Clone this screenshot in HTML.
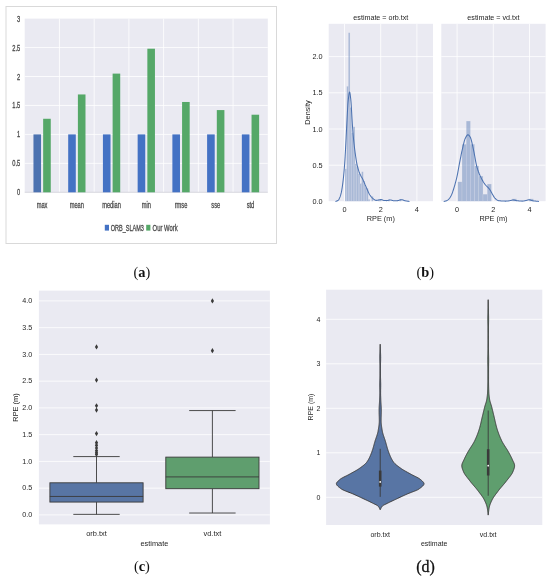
<!DOCTYPE html>
<html><head><meta charset="utf-8"><title>Figure</title>
<style>html,body{margin:0;padding:0;background:#fff}svg{display:block}</style></head>
<body>
<svg width="550" height="581" viewBox="0 0 550 581">
<rect width="550" height="581" fill="#fff"/>
<rect x="6" y="6.5" width="270.5" height="237" fill="#fff" stroke="#D9D9D9" stroke-width="1"/>
<rect x="24.7" y="18.6" width="243.10" height="173.70" fill="#EAEAF2"/>
<line x1="59.43" y1="18.6" x2="59.43" y2="192.3" stroke="#fff" stroke-width="0.8"/>
<line x1="94.16" y1="18.6" x2="94.16" y2="192.3" stroke="#fff" stroke-width="0.8"/>
<line x1="128.89" y1="18.6" x2="128.89" y2="192.3" stroke="#fff" stroke-width="0.8"/>
<line x1="163.61" y1="18.6" x2="163.61" y2="192.3" stroke="#fff" stroke-width="0.8"/>
<line x1="198.34" y1="18.6" x2="198.34" y2="192.3" stroke="#fff" stroke-width="0.8"/>
<line x1="233.07" y1="18.6" x2="233.07" y2="192.3" stroke="#fff" stroke-width="0.8"/>
<line x1="24.7" y1="163.35" x2="267.8" y2="163.35" stroke="#fff" stroke-width="0.8"/>
<line x1="24.7" y1="134.40" x2="267.8" y2="134.40" stroke="#fff" stroke-width="0.8"/>
<line x1="24.7" y1="105.45" x2="267.8" y2="105.45" stroke="#fff" stroke-width="0.8"/>
<line x1="24.7" y1="76.50" x2="267.8" y2="76.50" stroke="#fff" stroke-width="0.8"/>
<line x1="24.7" y1="47.55" x2="267.8" y2="47.55" stroke="#fff" stroke-width="0.8"/>
<line x1="24.7" y1="192.3" x2="267.8" y2="192.3" stroke="#D0D0D8" stroke-width="0.8"/>
<rect x="33.46" y="134.40" width="7.6" height="57.90" fill="#4C72B0"/>
<rect x="43.16" y="118.77" width="7.6" height="73.53" fill="#55A868"/>
<text transform="translate(42.06,207.60) scale(0.665,1)" font-size="8.6" text-anchor="middle" fill="#4a4a4a" stroke="#4a4a4a" stroke-width="0.3" font-family="Liberation Sans, Arial, sans-serif">max</text>
<rect x="68.19" y="134.40" width="7.6" height="57.90" fill="#4472C4"/>
<rect x="77.89" y="94.45" width="7.6" height="97.85" fill="#55A868"/>
<text transform="translate(76.79,207.60) scale(0.665,1)" font-size="8.6" text-anchor="middle" fill="#4a4a4a" stroke="#4a4a4a" stroke-width="0.3" font-family="Liberation Sans, Arial, sans-serif">mean</text>
<rect x="102.92" y="134.40" width="7.6" height="57.90" fill="#4472C4"/>
<rect x="112.62" y="73.61" width="7.6" height="118.70" fill="#55A868"/>
<text transform="translate(111.52,207.60) scale(0.665,1)" font-size="8.6" text-anchor="middle" fill="#4a4a4a" stroke="#4a4a4a" stroke-width="0.3" font-family="Liberation Sans, Arial, sans-serif">median</text>
<rect x="137.65" y="134.40" width="7.6" height="57.90" fill="#4472C4"/>
<rect x="147.35" y="48.71" width="7.6" height="143.59" fill="#55A868"/>
<text transform="translate(146.25,207.60) scale(0.665,1)" font-size="8.6" text-anchor="middle" fill="#4a4a4a" stroke="#4a4a4a" stroke-width="0.3" font-family="Liberation Sans, Arial, sans-serif">min</text>
<rect x="172.38" y="134.40" width="7.6" height="57.90" fill="#4472C4"/>
<rect x="182.08" y="101.98" width="7.6" height="90.32" fill="#55A868"/>
<text transform="translate(180.98,207.60) scale(0.665,1)" font-size="8.6" text-anchor="middle" fill="#4a4a4a" stroke="#4a4a4a" stroke-width="0.3" font-family="Liberation Sans, Arial, sans-serif">rmse</text>
<rect x="207.11" y="134.40" width="7.6" height="57.90" fill="#4472C4"/>
<rect x="216.81" y="110.08" width="7.6" height="82.22" fill="#55A868"/>
<text transform="translate(215.71,207.60) scale(0.665,1)" font-size="8.6" text-anchor="middle" fill="#4a4a4a" stroke="#4a4a4a" stroke-width="0.3" font-family="Liberation Sans, Arial, sans-serif">sse</text>
<rect x="241.84" y="134.40" width="7.6" height="57.90" fill="#4472C4"/>
<rect x="251.54" y="114.71" width="7.6" height="77.59" fill="#55A868"/>
<text transform="translate(250.44,207.60) scale(0.665,1)" font-size="8.6" text-anchor="middle" fill="#4a4a4a" stroke="#4a4a4a" stroke-width="0.3" font-family="Liberation Sans, Arial, sans-serif">std</text>
<text transform="translate(20.30,195.30) scale(0.665,1)" font-size="8.6" text-anchor="end" fill="#4a4a4a" stroke="#4a4a4a" stroke-width="0.3" font-family="Liberation Sans, Arial, sans-serif">0</text>
<text transform="translate(20.30,166.35) scale(0.665,1)" font-size="8.6" text-anchor="end" fill="#4a4a4a" stroke="#4a4a4a" stroke-width="0.3" font-family="Liberation Sans, Arial, sans-serif">0.5</text>
<text transform="translate(20.30,137.40) scale(0.665,1)" font-size="8.6" text-anchor="end" fill="#4a4a4a" stroke="#4a4a4a" stroke-width="0.3" font-family="Liberation Sans, Arial, sans-serif">1</text>
<text transform="translate(20.30,108.45) scale(0.665,1)" font-size="8.6" text-anchor="end" fill="#4a4a4a" stroke="#4a4a4a" stroke-width="0.3" font-family="Liberation Sans, Arial, sans-serif">1.5</text>
<text transform="translate(20.30,79.50) scale(0.665,1)" font-size="8.6" text-anchor="end" fill="#4a4a4a" stroke="#4a4a4a" stroke-width="0.3" font-family="Liberation Sans, Arial, sans-serif">2</text>
<text transform="translate(20.30,50.55) scale(0.665,1)" font-size="8.6" text-anchor="end" fill="#4a4a4a" stroke="#4a4a4a" stroke-width="0.3" font-family="Liberation Sans, Arial, sans-serif">2.5</text>
<text transform="translate(20.30,21.60) scale(0.665,1)" font-size="8.6" text-anchor="end" fill="#4a4a4a" stroke="#4a4a4a" stroke-width="0.3" font-family="Liberation Sans, Arial, sans-serif">3</text>
<rect x="104.8" y="224.8" width="4.2" height="5.8" fill="#4472C4"/>
<text transform="translate(110.70,230.60) scale(0.645,1)" font-size="8.6" text-anchor="start" fill="#4a4a4a" stroke="#4a4a4a" stroke-width="0.3" font-family="Liberation Sans, Arial, sans-serif">ORB_SLAM3</text>
<rect x="146.2" y="224.8" width="4.2" height="5.8" fill="#55A868"/>
<text transform="translate(152.60,230.60) scale(0.685,1)" font-size="8.6" text-anchor="start" fill="#4a4a4a" stroke="#4a4a4a" stroke-width="0.3" font-family="Liberation Sans, Arial, sans-serif">Our Work</text>
<rect x="328.7" y="23.8" width="104.30" height="177.40" fill="#EAEAF2"/>
<line x1="344.50" y1="23.8" x2="344.50" y2="201.2" stroke="#fff" stroke-width="0.8"/>
<text x="344.50" y="212.20" font-size="7.3" text-anchor="middle" fill="#262626" font-family="Liberation Sans, Arial, sans-serif" >0</text>
<line x1="380.70" y1="23.8" x2="380.70" y2="201.2" stroke="#fff" stroke-width="0.8"/>
<text x="380.70" y="212.20" font-size="7.3" text-anchor="middle" fill="#262626" font-family="Liberation Sans, Arial, sans-serif" >2</text>
<line x1="416.90" y1="23.8" x2="416.90" y2="201.2" stroke="#fff" stroke-width="0.8"/>
<text x="416.90" y="212.20" font-size="7.3" text-anchor="middle" fill="#262626" font-family="Liberation Sans, Arial, sans-serif" >4</text>
<line x1="328.7" y1="165.20" x2="433.0" y2="165.20" stroke="#fff" stroke-width="0.8"/>
<line x1="328.7" y1="129.00" x2="433.0" y2="129.00" stroke="#fff" stroke-width="0.8"/>
<line x1="328.7" y1="92.80" x2="433.0" y2="92.80" stroke="#fff" stroke-width="0.8"/>
<line x1="328.7" y1="56.60" x2="433.0" y2="56.60" stroke="#fff" stroke-width="0.8"/>
<text x="322.60" y="204.00" font-size="7.3" text-anchor="end" fill="#262626" font-family="Liberation Sans, Arial, sans-serif" >0.0</text>
<text x="322.60" y="167.80" font-size="7.3" text-anchor="end" fill="#262626" font-family="Liberation Sans, Arial, sans-serif" >0.5</text>
<text x="322.60" y="131.60" font-size="7.3" text-anchor="end" fill="#262626" font-family="Liberation Sans, Arial, sans-serif" >1.0</text>
<text x="322.60" y="95.40" font-size="7.3" text-anchor="end" fill="#262626" font-family="Liberation Sans, Arial, sans-serif" >1.5</text>
<text x="322.60" y="59.20" font-size="7.3" text-anchor="end" fill="#262626" font-family="Liberation Sans, Arial, sans-serif" >2.0</text>
<rect x="345.04" y="168.82" width="1.66" height="32.38" fill="#4C72B0" fill-opacity="0.42" stroke="#EAEAF2" stroke-opacity="0.55" stroke-width="0.35"/>
<rect x="346.70" y="86.28" width="1.66" height="114.92" fill="#4C72B0" fill-opacity="0.42" stroke="#EAEAF2" stroke-opacity="0.55" stroke-width="0.35"/>
<rect x="348.36" y="32.71" width="1.66" height="168.49" fill="#4C72B0" fill-opacity="0.42" stroke="#EAEAF2" stroke-opacity="0.55" stroke-width="0.35"/>
<rect x="350.01" y="107.28" width="1.66" height="93.92" fill="#4C72B0" fill-opacity="0.42" stroke="#EAEAF2" stroke-opacity="0.55" stroke-width="0.35"/>
<rect x="351.67" y="132.62" width="1.66" height="68.58" fill="#4C72B0" fill-opacity="0.42" stroke="#EAEAF2" stroke-opacity="0.55" stroke-width="0.35"/>
<rect x="353.32" y="126.83" width="1.66" height="74.37" fill="#4C72B0" fill-opacity="0.42" stroke="#EAEAF2" stroke-opacity="0.55" stroke-width="0.35"/>
<rect x="354.98" y="163.75" width="1.66" height="37.45" fill="#4C72B0" fill-opacity="0.42" stroke="#EAEAF2" stroke-opacity="0.55" stroke-width="0.35"/>
<rect x="356.64" y="166.65" width="1.66" height="34.55" fill="#4C72B0" fill-opacity="0.42" stroke="#EAEAF2" stroke-opacity="0.55" stroke-width="0.35"/>
<rect x="358.29" y="173.89" width="1.66" height="27.31" fill="#4C72B0" fill-opacity="0.42" stroke="#EAEAF2" stroke-opacity="0.55" stroke-width="0.35"/>
<rect x="359.95" y="183.30" width="1.66" height="17.90" fill="#4C72B0" fill-opacity="0.42" stroke="#EAEAF2" stroke-opacity="0.55" stroke-width="0.35"/>
<rect x="361.60" y="171.72" width="1.66" height="29.48" fill="#4C72B0" fill-opacity="0.42" stroke="#EAEAF2" stroke-opacity="0.55" stroke-width="0.35"/>
<rect x="363.26" y="181.13" width="1.66" height="20.07" fill="#4C72B0" fill-opacity="0.42" stroke="#EAEAF2" stroke-opacity="0.55" stroke-width="0.35"/>
<rect x="364.92" y="186.92" width="1.66" height="14.28" fill="#4C72B0" fill-opacity="0.42" stroke="#EAEAF2" stroke-opacity="0.55" stroke-width="0.35"/>
<rect x="366.57" y="188.37" width="1.66" height="12.83" fill="#4C72B0" fill-opacity="0.42" stroke="#EAEAF2" stroke-opacity="0.55" stroke-width="0.35"/>
<rect x="368.23" y="199.23" width="1.66" height="1.97" fill="#4C72B0" fill-opacity="0.42" stroke="#EAEAF2" stroke-opacity="0.55" stroke-width="0.35"/>
<rect x="371.54" y="196.33" width="1.66" height="4.87" fill="#4C72B0" fill-opacity="0.42" stroke="#EAEAF2" stroke-opacity="0.55" stroke-width="0.35"/>
<rect x="378.17" y="199.23" width="1.66" height="1.97" fill="#4C72B0" fill-opacity="0.42" stroke="#EAEAF2" stroke-opacity="0.55" stroke-width="0.35"/>
<rect x="379.82" y="199.95" width="1.66" height="1.25" fill="#4C72B0" fill-opacity="0.42" stroke="#EAEAF2" stroke-opacity="0.55" stroke-width="0.35"/>
<rect x="388.10" y="199.23" width="1.66" height="1.97" fill="#4C72B0" fill-opacity="0.42" stroke="#EAEAF2" stroke-opacity="0.55" stroke-width="0.35"/>
<rect x="399.70" y="199.23" width="1.66" height="1.97" fill="#4C72B0" fill-opacity="0.42" stroke="#EAEAF2" stroke-opacity="0.55" stroke-width="0.35"/>
<path d="M335.81,201.40 L336.06,201.29 L336.30,201.20 L336.55,201.11 L336.79,201.02 L337.04,200.92 L337.28,200.82 L337.53,200.71 L337.77,200.57 L338.02,200.42 L338.26,200.23 L338.51,199.96 L338.75,199.61 L339.00,199.19 L339.24,198.71 L339.49,198.19 L339.73,197.63 L339.98,197.04 L340.23,196.41 L340.47,195.68 L340.72,194.85 L340.96,193.94 L341.21,192.95 L341.45,191.86 L341.70,190.62 L341.94,189.21 L342.19,187.64 L342.43,185.94 L342.68,184.11 L342.92,182.18 L343.17,180.17 L343.41,177.98 L343.66,175.60 L343.90,173.03 L344.15,170.26 L344.39,167.29 L344.64,164.06 L344.88,160.38 L345.13,156.35 L345.37,152.05 L345.62,147.63 L345.86,143.13 L346.11,138.27 L346.35,133.19 L346.60,128.14 L346.84,123.37 L347.09,118.66 L347.33,113.83 L347.58,109.21 L347.83,105.15 L348.07,101.99 L348.32,99.63 L348.56,97.37 L348.81,95.34 L349.05,93.69 L349.30,92.55 L349.54,92.08 L349.79,92.43 L350.03,93.53 L350.28,95.20 L350.52,97.24 L350.77,99.43 L351.01,101.95 L351.26,105.48 L351.50,109.68 L351.75,114.18 L351.99,118.60 L352.24,122.56 L352.48,126.00 L352.73,129.33 L352.97,132.51 L353.22,135.50 L353.46,138.24 L353.71,140.73 L353.95,143.07 L354.20,145.28 L354.44,147.37 L354.69,149.36 L354.94,151.26 L355.18,153.06 L355.43,154.80 L355.67,156.49 L355.92,158.15 L356.16,159.74 L356.41,161.25 L356.65,162.65 L356.90,163.94 L357.14,165.08 L357.39,166.10 L357.63,167.07 L357.88,167.99 L358.12,168.86 L358.37,169.68 L358.61,170.45 L358.86,171.19 L359.10,171.89 L359.35,172.55 L359.59,173.18 L359.84,173.78 L360.08,174.34 L360.33,174.86 L360.57,175.34 L360.82,175.79 L361.06,176.22 L361.31,176.64 L361.55,177.06 L361.80,177.47 L362.04,177.90 L362.29,178.35 L362.54,178.82 L362.78,179.33 L363.03,179.85 L363.27,180.39 L363.52,180.94 L363.76,181.50 L364.01,182.07 L364.25,182.64 L364.50,183.22 L364.74,183.80 L364.99,184.38 L365.23,184.97 L365.48,185.54 L365.72,186.11 L365.97,186.68 L366.21,187.23 L366.46,187.77 L366.70,188.32 L366.95,188.87 L367.19,189.44 L367.44,190.00 L367.68,190.57 L367.93,191.13 L368.17,191.68 L368.42,192.22 L368.66,192.74 L368.91,193.24 L369.15,193.72 L369.40,194.16 L369.65,194.58 L369.89,194.96 L370.14,195.32 L370.38,195.67 L370.63,196.01 L370.87,196.34 L371.12,196.65 L371.36,196.95 L371.61,197.24 L371.85,197.51 L372.10,197.77 L372.34,198.01 L372.59,198.23 L372.83,198.44 L373.08,198.63 L373.32,198.83 L373.57,199.02 L373.81,199.22 L374.06,199.41 L374.30,199.59 L374.55,199.76 L374.79,199.92 L375.04,200.06 L375.28,200.18 L375.53,200.27 L375.77,200.34 L376.02,200.38 L376.26,200.39 L376.51,200.37 L376.75,200.35 L377.00,200.32 L377.25,200.28 L377.49,200.23 L377.74,200.18 L377.98,200.13 L378.23,200.08 L378.47,200.03 L378.72,199.98 L378.96,199.94 L379.21,199.89 L379.45,199.84 L379.70,199.79 L379.94,199.73 L380.19,199.68 L380.43,199.64 L380.68,199.61 L380.92,199.59 L381.17,199.59 L381.41,199.62 L381.66,199.67 L381.90,199.74 L382.15,199.82 L382.39,199.92 L382.64,200.02 L382.88,200.12 L383.13,200.22 L383.37,200.32 L383.62,200.40 L383.86,200.47 L384.11,200.51 L384.36,200.53 L384.60,200.54 L384.85,200.55 L385.09,200.56 L385.34,200.57 L385.58,200.58 L385.83,200.59 L386.07,200.59 L386.32,200.60 L386.56,200.60 L386.81,200.60 L387.05,200.60 L387.30,200.59 L387.54,200.56 L387.79,200.51 L388.03,200.44 L388.28,200.37 L388.52,200.29 L388.77,200.22 L389.01,200.14 L389.26,200.07 L389.50,200.02 L389.75,199.98 L389.99,199.95 L390.24,199.95 L390.48,199.97 L390.73,200.00 L390.97,200.05 L391.22,200.10 L391.46,200.17 L391.71,200.24 L391.96,200.31 L392.20,200.39 L392.45,200.46 L392.69,200.54 L392.94,200.61 L393.18,200.67 L393.43,200.73 L393.67,200.77 L393.92,200.80 L394.16,200.82 L394.41,200.82 L394.65,200.82 L394.90,200.81 L395.14,200.81 L395.39,200.80 L395.63,200.78 L395.88,200.77 L396.12,200.75 L396.37,200.74 L396.61,200.72 L396.86,200.70 L397.10,200.68 L397.35,200.66 L397.59,200.63 L397.84,200.61 L398.08,200.58 L398.33,200.53 L398.57,200.46 L398.82,200.39 L399.07,200.30 L399.31,200.21 L399.56,200.11 L399.80,200.02 L400.05,199.93 L400.29,199.85 L400.54,199.78 L400.78,199.72 L401.03,199.68 L401.27,199.66 L401.52,199.67 L401.76,199.69 L402.01,199.73 L402.25,199.79 L402.50,199.85 L402.74,199.93 L402.99,200.02 L403.23,200.11 L403.48,200.20 L403.72,200.29 L403.97,200.39 L404.21,200.48 L404.46,200.56 L404.70,200.64 L404.95,200.71 L405.19,200.76 L405.44,200.81 L405.68,200.86 L405.93,200.90 L406.17,200.94 L406.42,200.99 L406.67,201.02 L406.91,201.06 L407.16,201.10 L407.40,201.14 L407.65,201.17 L407.89,201.21 L408.14,201.25 L408.38,201.28 L408.63,201.32 L408.87,201.36 L409.12,201.40" fill="none" stroke="#4C72B0" stroke-width="1.05" stroke-linejoin="round" stroke-linecap="round"/>
<text x="380.85" y="19.50" font-size="7.15" text-anchor="middle" fill="#262626" font-family="Liberation Sans, Arial, sans-serif" >estimate = orb.txt</text>
<text x="380.85" y="221.30" font-size="7.3" text-anchor="middle" fill="#262626" font-family="Liberation Sans, Arial, sans-serif" >RPE (m)</text>
<rect x="441.3" y="23.8" width="104.30" height="177.40" fill="#EAEAF2"/>
<line x1="457.10" y1="23.8" x2="457.10" y2="201.2" stroke="#fff" stroke-width="0.8"/>
<text x="457.10" y="212.20" font-size="7.3" text-anchor="middle" fill="#262626" font-family="Liberation Sans, Arial, sans-serif" >0</text>
<line x1="493.30" y1="23.8" x2="493.30" y2="201.2" stroke="#fff" stroke-width="0.8"/>
<text x="493.30" y="212.20" font-size="7.3" text-anchor="middle" fill="#262626" font-family="Liberation Sans, Arial, sans-serif" >2</text>
<line x1="529.50" y1="23.8" x2="529.50" y2="201.2" stroke="#fff" stroke-width="0.8"/>
<text x="529.50" y="212.20" font-size="7.3" text-anchor="middle" fill="#262626" font-family="Liberation Sans, Arial, sans-serif" >4</text>
<line x1="441.3" y1="165.20" x2="545.6" y2="165.20" stroke="#fff" stroke-width="0.8"/>
<line x1="441.3" y1="129.00" x2="545.6" y2="129.00" stroke="#fff" stroke-width="0.8"/>
<line x1="441.3" y1="92.80" x2="545.6" y2="92.80" stroke="#fff" stroke-width="0.8"/>
<line x1="441.3" y1="56.60" x2="545.6" y2="56.60" stroke="#fff" stroke-width="0.8"/>
<rect x="457.82" y="181.85" width="4.20" height="19.35" fill="#4C72B0" fill-opacity="0.42" stroke="#EAEAF2" stroke-opacity="0.55" stroke-width="0.35"/>
<rect x="462.02" y="144.20" width="4.20" height="57.00" fill="#4C72B0" fill-opacity="0.42" stroke="#EAEAF2" stroke-opacity="0.55" stroke-width="0.35"/>
<rect x="466.22" y="121.04" width="4.20" height="80.16" fill="#4C72B0" fill-opacity="0.42" stroke="#EAEAF2" stroke-opacity="0.55" stroke-width="0.35"/>
<rect x="470.42" y="144.20" width="4.20" height="57.00" fill="#4C72B0" fill-opacity="0.42" stroke="#EAEAF2" stroke-opacity="0.55" stroke-width="0.35"/>
<rect x="474.62" y="165.92" width="4.20" height="35.28" fill="#4C72B0" fill-opacity="0.42" stroke="#EAEAF2" stroke-opacity="0.55" stroke-width="0.35"/>
<rect x="478.82" y="176.06" width="4.20" height="25.14" fill="#4C72B0" fill-opacity="0.42" stroke="#EAEAF2" stroke-opacity="0.55" stroke-width="0.35"/>
<rect x="483.02" y="194.16" width="4.20" height="7.04" fill="#4C72B0" fill-opacity="0.42" stroke="#EAEAF2" stroke-opacity="0.55" stroke-width="0.35"/>
<rect x="487.22" y="184.02" width="4.20" height="17.18" fill="#4C72B0" fill-opacity="0.42" stroke="#EAEAF2" stroke-opacity="0.55" stroke-width="0.35"/>
<rect x="512.41" y="198.87" width="4.20" height="2.33" fill="#4C72B0" fill-opacity="0.42" stroke="#EAEAF2" stroke-opacity="0.55" stroke-width="0.35"/>
<rect x="529.21" y="198.87" width="4.20" height="2.33" fill="#4C72B0" fill-opacity="0.42" stroke="#EAEAF2" stroke-opacity="0.55" stroke-width="0.35"/>
<path d="M444.07,201.40 L444.38,201.31 L444.70,201.24 L445.02,201.16 L445.33,201.08 L445.65,201.00 L445.96,200.91 L446.28,200.80 L446.60,200.68 L446.91,200.53 L447.23,200.34 L447.54,200.13 L447.86,199.89 L448.18,199.62 L448.49,199.33 L448.81,199.02 L449.12,198.69 L449.44,198.31 L449.76,197.89 L450.07,197.43 L450.39,196.92 L450.70,196.38 L451.02,195.81 L451.34,195.20 L451.65,194.56 L451.97,193.85 L452.28,193.04 L452.60,192.14 L452.92,191.19 L453.23,190.22 L453.55,189.24 L453.86,188.25 L454.18,187.21 L454.50,186.13 L454.81,185.03 L455.13,183.89 L455.44,182.73 L455.76,181.55 L456.08,180.34 L456.39,179.09 L456.71,177.78 L457.02,176.40 L457.34,174.94 L457.66,173.35 L457.97,171.68 L458.29,169.95 L458.60,168.18 L458.92,166.40 L459.24,164.65 L459.55,162.94 L459.87,161.31 L460.18,159.71 L460.50,158.12 L460.82,156.54 L461.13,154.97 L461.45,153.44 L461.76,151.95 L462.08,150.51 L462.40,149.12 L462.71,147.78 L463.03,146.40 L463.34,145.02 L463.66,143.67 L463.98,142.37 L464.29,141.16 L464.61,140.08 L464.92,139.15 L465.24,138.42 L465.56,137.80 L465.87,137.19 L466.19,136.62 L466.50,136.09 L466.82,135.63 L467.14,135.25 L467.45,134.97 L467.77,134.82 L468.08,134.80 L468.40,134.91 L468.72,135.14 L469.03,135.45 L469.35,135.83 L469.66,136.27 L469.98,136.73 L470.30,137.24 L470.61,137.96 L470.93,138.87 L471.24,139.95 L471.56,141.16 L471.88,142.48 L472.19,143.87 L472.51,145.30 L472.82,146.75 L473.14,148.18 L473.46,149.56 L473.77,151.02 L474.09,152.61 L474.40,154.29 L474.72,156.03 L475.04,157.80 L475.35,159.56 L475.67,161.28 L475.98,162.92 L476.30,164.46 L476.62,165.87 L476.93,167.10 L477.25,168.17 L477.56,169.17 L477.88,170.12 L478.20,171.03 L478.51,171.88 L478.83,172.70 L479.14,173.48 L479.46,174.22 L479.78,174.94 L480.09,175.64 L480.41,176.31 L480.72,176.98 L481.04,177.63 L481.36,178.26 L481.67,178.88 L481.99,179.47 L482.30,180.06 L482.62,180.62 L482.94,181.17 L483.25,181.70 L483.57,182.21 L483.88,182.71 L484.20,183.18 L484.52,183.64 L484.83,184.08 L485.15,184.49 L485.46,184.87 L485.78,185.24 L486.10,185.58 L486.41,185.91 L486.73,186.23 L487.04,186.54 L487.36,186.85 L487.68,187.16 L487.99,187.48 L488.31,187.81 L488.62,188.15 L488.94,188.51 L489.26,188.89 L489.57,189.31 L489.89,189.75 L490.20,190.25 L490.52,190.78 L490.84,191.35 L491.15,191.93 L491.47,192.51 L491.78,193.09 L492.10,193.66 L492.41,194.19 L492.73,194.73 L493.05,195.29 L493.36,195.85 L493.68,196.40 L493.99,196.92 L494.31,197.39 L494.63,197.81 L494.94,198.16 L495.26,198.46 L495.57,198.75 L495.89,199.04 L496.21,199.32 L496.52,199.58 L496.84,199.82 L497.15,200.03 L497.47,200.23 L497.79,200.39 L498.10,200.52 L498.42,200.62 L498.73,200.68 L499.05,200.71 L499.37,200.75 L499.68,200.78 L500.00,200.82 L500.31,200.85 L500.63,200.87 L500.95,200.90 L501.26,200.93 L501.58,200.95 L501.89,200.97 L502.21,200.99 L502.53,201.01 L502.84,201.03 L503.16,201.05 L503.47,201.06 L503.79,201.07 L504.11,201.08 L504.42,201.09 L504.74,201.10 L505.05,201.10 L505.37,201.11 L505.69,201.11 L506.00,201.11 L506.32,201.10 L506.63,201.09 L506.95,201.07 L507.27,201.04 L507.58,201.00 L507.90,200.96 L508.21,200.92 L508.53,200.87 L508.85,200.81 L509.16,200.76 L509.48,200.71 L509.79,200.65 L510.11,200.60 L510.43,200.54 L510.74,200.48 L511.06,200.41 L511.37,200.32 L511.69,200.23 L512.01,200.14 L512.32,200.07 L512.64,200.00 L512.95,199.96 L513.27,199.95 L513.59,199.97 L513.90,200.01 L514.22,200.07 L514.53,200.14 L514.85,200.22 L515.17,200.30 L515.48,200.39 L515.80,200.47 L516.11,200.55 L516.43,200.61 L516.75,200.67 L517.06,200.70 L517.38,200.74 L517.69,200.78 L518.01,200.81 L518.33,200.85 L518.64,200.88 L518.96,200.92 L519.27,200.95 L519.59,200.98 L519.91,201.00 L520.22,201.03 L520.54,201.05 L520.85,201.07 L521.17,201.09 L521.49,201.10 L521.80,201.11 L522.12,201.11 L522.43,201.11 L522.75,201.09 L523.07,201.06 L523.38,201.02 L523.70,200.97 L524.01,200.92 L524.33,200.86 L524.65,200.79 L524.96,200.72 L525.28,200.65 L525.59,200.59 L525.91,200.53 L526.23,200.45 L526.54,200.37 L526.86,200.27 L527.17,200.17 L527.49,200.07 L527.81,199.98 L528.12,199.91 L528.44,199.85 L528.75,199.81 L529.07,199.81 L529.39,199.83 L529.70,199.88 L530.02,199.94 L530.33,200.02 L530.65,200.11 L530.97,200.21 L531.28,200.32 L531.60,200.42 L531.91,200.52 L532.23,200.62 L532.55,200.70 L532.86,200.78 L533.18,200.83 L533.49,200.88 L533.81,200.92 L534.13,200.96 L534.44,201.00 L534.76,201.03 L535.07,201.06 L535.39,201.10 L535.71,201.13 L536.02,201.16 L536.34,201.19 L536.65,201.22 L536.97,201.25 L537.29,201.28 L537.60,201.30 L537.92,201.34 L538.23,201.37 L538.55,201.40" fill="none" stroke="#4C72B0" stroke-width="1.05" stroke-linejoin="round" stroke-linecap="round"/>
<text x="493.45" y="19.50" font-size="7.15" text-anchor="middle" fill="#262626" font-family="Liberation Sans, Arial, sans-serif" >estimate = vd.txt</text>
<text x="493.45" y="221.30" font-size="7.3" text-anchor="middle" fill="#262626" font-family="Liberation Sans, Arial, sans-serif" >RPE (m)</text>
<text transform="translate(310.3,112.5) rotate(-90)" font-size="7.3" text-anchor="middle" fill="#262626" font-family="Liberation Sans, Arial, sans-serif">Density</text>
<rect x="38.9" y="290.6" width="231.00" height="233.80" fill="#EAEAF2"/>
<line x1="38.9" y1="514.90" x2="269.9" y2="514.90" stroke="#fff" stroke-width="0.8"/>
<text x="32.20" y="517.10" font-size="7.2" text-anchor="end" fill="#262626" font-family="Liberation Sans, Arial, sans-serif" >0.0</text>
<line x1="38.9" y1="488.15" x2="269.9" y2="488.15" stroke="#fff" stroke-width="0.8"/>
<text x="32.20" y="490.35" font-size="7.2" text-anchor="end" fill="#262626" font-family="Liberation Sans, Arial, sans-serif" >0.5</text>
<line x1="38.9" y1="461.40" x2="269.9" y2="461.40" stroke="#fff" stroke-width="0.8"/>
<text x="32.20" y="463.60" font-size="7.2" text-anchor="end" fill="#262626" font-family="Liberation Sans, Arial, sans-serif" >1.0</text>
<line x1="38.9" y1="434.65" x2="269.9" y2="434.65" stroke="#fff" stroke-width="0.8"/>
<text x="32.20" y="436.85" font-size="7.2" text-anchor="end" fill="#262626" font-family="Liberation Sans, Arial, sans-serif" >1.5</text>
<line x1="38.9" y1="407.90" x2="269.9" y2="407.90" stroke="#fff" stroke-width="0.8"/>
<text x="32.20" y="410.10" font-size="7.2" text-anchor="end" fill="#262626" font-family="Liberation Sans, Arial, sans-serif" >2.0</text>
<line x1="38.9" y1="381.15" x2="269.9" y2="381.15" stroke="#fff" stroke-width="0.8"/>
<text x="32.20" y="383.35" font-size="7.2" text-anchor="end" fill="#262626" font-family="Liberation Sans, Arial, sans-serif" >2.5</text>
<line x1="38.9" y1="354.40" x2="269.9" y2="354.40" stroke="#fff" stroke-width="0.8"/>
<text x="32.20" y="356.60" font-size="7.2" text-anchor="end" fill="#262626" font-family="Liberation Sans, Arial, sans-serif" >3.0</text>
<line x1="38.9" y1="327.65" x2="269.9" y2="327.65" stroke="#fff" stroke-width="0.8"/>
<text x="32.20" y="329.85" font-size="7.2" text-anchor="end" fill="#262626" font-family="Liberation Sans, Arial, sans-serif" >3.5</text>
<line x1="38.9" y1="300.90" x2="269.9" y2="300.90" stroke="#fff" stroke-width="0.8"/>
<text x="32.20" y="303.10" font-size="7.2" text-anchor="end" fill="#262626" font-family="Liberation Sans, Arial, sans-serif" >4.0</text>
<line x1="96.5" y1="456.58" x2="96.5" y2="482.80" stroke="#3a3a3a" stroke-width="0.9"/>
<line x1="96.5" y1="514.37" x2="96.5" y2="502.06" stroke="#3a3a3a" stroke-width="0.9"/>
<line x1="73.3" y1="456.58" x2="119.7" y2="456.58" stroke="#3a3a3a" stroke-width="0.9"/>
<line x1="73.3" y1="514.37" x2="119.7" y2="514.37" stroke="#3a3a3a" stroke-width="0.9"/>
<rect x="49.90" y="482.80" width="93.20" height="19.26" fill="#5875A4" stroke="#3a3a3a" stroke-width="0.9"/>
<line x1="49.90" y1="496.44" x2="143.10" y2="496.44" stroke="#3a3a3a" stroke-width="0.9"/>
<path d="M96.5,344.31 L98.1,346.91 L96.5,349.51 L94.9,346.91Z" fill="#3a3a3a"/>
<path d="M96.5,377.48 L98.1,380.08 L96.5,382.68 L94.9,380.08Z" fill="#3a3a3a"/>
<path d="M96.5,403.16 L98.1,405.76 L96.5,408.36 L94.9,405.76Z" fill="#3a3a3a"/>
<path d="M96.5,407.44 L98.1,410.04 L96.5,412.64 L94.9,410.04Z" fill="#3a3a3a"/>
<path d="M96.5,430.98 L98.1,433.58 L96.5,436.18 L94.9,433.58Z" fill="#3a3a3a"/>
<path d="M96.5,440.07 L98.1,442.67 L96.5,445.27 L94.9,442.67Z" fill="#3a3a3a"/>
<path d="M96.5,442.75 L98.1,445.35 L96.5,447.95 L94.9,445.35Z" fill="#3a3a3a"/>
<path d="M96.5,445.42 L98.1,448.02 L96.5,450.62 L94.9,448.02Z" fill="#3a3a3a"/>
<path d="M96.5,448.10 L98.1,450.70 L96.5,453.30 L94.9,450.70Z" fill="#3a3a3a"/>
<path d="M96.5,450.24 L98.1,452.84 L96.5,455.44 L94.9,452.84Z" fill="#3a3a3a"/>
<path d="M96.5,451.84 L98.1,454.44 L96.5,457.05 L94.9,454.44Z" fill="#3a3a3a"/>
<line x1="212.4" y1="410.57" x2="212.4" y2="457.12" stroke="#3a3a3a" stroke-width="0.9"/>
<line x1="212.4" y1="513.03" x2="212.4" y2="488.69" stroke="#3a3a3a" stroke-width="0.9"/>
<line x1="189.20000000000002" y1="410.57" x2="235.6" y2="410.57" stroke="#3a3a3a" stroke-width="0.9"/>
<line x1="189.20000000000002" y1="513.03" x2="235.6" y2="513.03" stroke="#3a3a3a" stroke-width="0.9"/>
<rect x="165.80" y="457.12" width="93.20" height="31.56" fill="#5F9E6E" stroke="#3a3a3a" stroke-width="0.9"/>
<line x1="165.80" y1="476.91" x2="259.00" y2="476.91" stroke="#3a3a3a" stroke-width="0.9"/>
<path d="M212.4,298.30 L214.0,300.90 L212.4,303.50 L210.8,300.90Z" fill="#3a3a3a"/>
<path d="M212.4,348.05 L214.0,350.65 L212.4,353.25 L210.8,350.65Z" fill="#3a3a3a"/>
<text x="96.50" y="536.20" font-size="7.4" text-anchor="middle" fill="#262626" font-family="Liberation Sans, Arial, sans-serif" >orb.txt</text>
<text x="212.40" y="536.20" font-size="7.4" text-anchor="middle" fill="#262626" font-family="Liberation Sans, Arial, sans-serif" >vd.txt</text>
<text x="154.40" y="545.60" font-size="7.4" text-anchor="middle" fill="#262626" font-family="Liberation Sans, Arial, sans-serif" >estimate</text>
<text transform="translate(18.4,407.5) rotate(-90)" font-size="7.4" text-anchor="middle" fill="#262626" font-family="Liberation Sans, Arial, sans-serif">RPE (m)</text>
<rect x="326.1" y="289.7" width="216.20" height="235.30" fill="#EAEAF2"/>
<line x1="326.1" y1="497.30" x2="542.3" y2="497.30" stroke="#fff" stroke-width="0.8"/>
<text x="320.40" y="499.50" font-size="7.0" text-anchor="end" fill="#262626" font-family="Liberation Sans, Arial, sans-serif" >0</text>
<line x1="326.1" y1="452.80" x2="542.3" y2="452.80" stroke="#fff" stroke-width="0.8"/>
<text x="320.40" y="455.00" font-size="7.0" text-anchor="end" fill="#262626" font-family="Liberation Sans, Arial, sans-serif" >1</text>
<line x1="326.1" y1="408.30" x2="542.3" y2="408.30" stroke="#fff" stroke-width="0.8"/>
<text x="320.40" y="410.50" font-size="7.0" text-anchor="end" fill="#262626" font-family="Liberation Sans, Arial, sans-serif" >2</text>
<line x1="326.1" y1="363.80" x2="542.3" y2="363.80" stroke="#fff" stroke-width="0.8"/>
<text x="320.40" y="366.00" font-size="7.0" text-anchor="end" fill="#262626" font-family="Liberation Sans, Arial, sans-serif" >3</text>
<line x1="326.1" y1="319.30" x2="542.3" y2="319.30" stroke="#fff" stroke-width="0.8"/>
<text x="320.40" y="321.50" font-size="7.0" text-anchor="end" fill="#262626" font-family="Liberation Sans, Arial, sans-serif" >4</text>
<path d="M380.20,509.76 L379.98,509.35 L379.78,508.93 L379.59,508.52 L379.40,508.10 L379.19,507.69 L378.96,507.27 L378.70,506.86 L378.40,506.44 L378.03,506.03 L377.50,505.61 L376.82,505.20 L376.03,504.78 L375.18,504.37 L374.31,503.95 L373.45,503.54 L372.64,503.12 L371.82,502.71 L370.99,502.29 L370.14,501.88 L369.27,501.46 L368.40,501.05 L367.52,500.63 L366.63,500.22 L365.74,499.80 L364.86,499.39 L363.97,498.97 L363.09,498.56 L362.21,498.14 L361.32,497.73 L360.43,497.31 L359.54,496.90 L358.65,496.48 L357.75,496.07 L356.84,495.65 L355.93,495.24 L355.02,494.82 L354.10,494.41 L353.17,493.99 L352.20,493.58 L351.18,493.16 L350.11,492.75 L349.01,492.33 L347.91,491.92 L346.82,491.50 L345.75,491.09 L344.73,490.68 L343.78,490.26 L342.90,489.85 L342.11,489.43 L341.44,489.02 L340.87,488.60 L340.31,488.19 L339.76,487.77 L339.22,487.36 L338.70,486.94 L338.21,486.53 L337.76,486.11 L337.36,485.70 L337.02,485.28 L336.74,484.87 L336.54,484.45 L336.43,484.04 L336.40,483.62 L336.48,483.21 L336.66,482.79 L336.91,482.38 L337.24,481.96 L337.62,481.55 L338.05,481.13 L338.50,480.72 L338.98,480.30 L339.46,479.89 L339.93,479.47 L340.45,479.06 L341.05,478.64 L341.73,478.23 L342.46,477.81 L343.24,477.40 L344.05,476.98 L344.89,476.57 L345.74,476.15 L346.59,475.74 L347.42,475.32 L348.23,474.91 L349.00,474.49 L349.74,474.08 L350.48,473.66 L351.24,473.25 L351.99,472.84 L352.75,472.42 L353.50,472.01 L354.25,471.59 L354.99,471.18 L355.72,470.76 L356.43,470.35 L357.12,469.93 L357.79,469.52 L358.44,469.10 L359.06,468.69 L359.64,468.27 L360.22,467.86 L360.80,467.44 L361.37,467.03 L361.93,466.61 L362.48,466.20 L363.02,465.78 L363.55,465.37 L364.05,464.95 L364.54,464.54 L365.00,464.12 L365.44,463.71 L365.84,463.29 L366.22,462.88 L366.56,462.46 L366.87,462.05 L367.16,461.63 L367.43,461.22 L367.70,460.80 L367.96,460.39 L368.21,459.97 L368.45,459.56 L368.68,459.14 L368.91,458.73 L369.12,458.31 L369.33,457.90 L369.53,457.48 L369.73,457.07 L369.92,456.65 L370.11,456.24 L370.29,455.82 L370.46,455.41 L370.63,454.99 L370.80,454.58 L370.96,454.17 L371.13,453.75 L371.28,453.34 L371.44,452.92 L371.60,452.51 L371.75,452.09 L371.90,451.68 L372.05,451.26 L372.20,450.85 L372.34,450.43 L372.48,450.02 L372.61,449.60 L372.74,449.19 L372.87,448.77 L373.00,448.36 L373.12,447.94 L373.24,447.53 L373.36,447.11 L373.47,446.70 L373.59,446.28 L373.70,445.87 L373.82,445.45 L373.93,445.04 L374.04,444.62 L374.16,444.21 L374.27,443.79 L374.38,443.38 L374.50,442.96 L374.62,442.55 L374.73,442.13 L374.86,441.72 L374.98,441.30 L375.10,440.89 L375.23,440.47 L375.37,440.06 L375.50,439.64 L375.64,439.23 L375.79,438.81 L375.93,438.40 L376.07,437.98 L376.22,437.57 L376.36,437.15 L376.50,436.74 L376.65,436.32 L376.79,435.91 L376.92,435.50 L377.06,435.08 L377.19,434.67 L377.31,434.25 L377.44,433.84 L377.55,433.42 L377.66,433.01 L377.77,432.59 L377.87,432.18 L377.96,431.76 L378.04,431.35 L378.11,430.93 L378.18,430.52 L378.25,430.10 L378.32,429.69 L378.39,429.27 L378.46,428.86 L378.53,428.44 L378.60,428.03 L378.66,427.61 L378.73,427.20 L378.79,426.78 L378.85,426.37 L378.91,425.95 L378.96,425.54 L379.01,425.12 L379.06,424.71 L379.10,424.29 L379.15,423.88 L379.18,423.46 L379.21,423.05 L379.24,422.63 L379.26,422.22 L379.28,421.80 L379.29,421.39 L379.30,420.97 L379.30,420.56 L379.30,420.14 L379.29,419.73 L379.29,419.31 L379.28,418.90 L379.28,418.48 L379.27,418.07 L379.26,417.66 L379.25,417.24 L379.24,416.83 L379.22,416.41 L379.21,416.00 L379.20,415.58 L379.19,415.17 L379.18,414.75 L379.17,414.34 L379.16,413.92 L379.14,413.51 L379.14,413.09 L379.13,412.68 L379.12,412.26 L379.11,411.85 L379.11,411.43 L379.10,411.02 L379.10,410.60 L379.10,410.19 L379.10,409.77 L379.11,409.36 L379.12,408.94 L379.13,408.53 L379.14,408.11 L379.16,407.70 L379.18,407.28 L379.20,406.87 L379.22,406.45 L379.25,406.04 L379.27,405.62 L379.30,405.21 L379.32,404.79 L379.35,404.38 L379.38,403.96 L379.40,403.55 L379.43,403.13 L379.45,402.72 L379.48,402.30 L379.50,401.89 L379.53,401.47 L379.55,401.06 L379.57,400.64 L379.59,400.23 L379.60,399.81 L379.62,399.40 L379.63,398.99 L379.65,398.57 L379.66,398.16 L379.68,397.74 L379.69,397.33 L379.71,396.91 L379.72,396.50 L379.74,396.08 L379.75,395.67 L379.76,395.25 L379.77,394.84 L379.78,394.42 L379.79,394.01 L379.80,393.59 L379.80,393.18 L379.80,392.76 L379.80,392.35 L379.80,391.93 L379.79,391.52 L379.79,391.10 L379.78,390.69 L379.78,390.27 L379.77,389.86 L379.76,389.44 L379.75,389.03 L379.74,388.61 L379.74,388.20 L379.73,387.78 L379.72,387.37 L379.71,386.95 L379.71,386.54 L379.70,386.12 L379.70,385.71 L379.70,385.29 L379.70,384.88 L379.70,384.46 L379.71,384.05 L379.71,383.63 L379.72,383.22 L379.73,382.80 L379.74,382.39 L379.75,381.97 L379.76,381.56 L379.77,381.14 L379.78,380.73 L379.79,380.32 L379.80,379.90 L379.82,379.49 L379.83,379.07 L379.84,378.66 L379.85,378.24 L379.86,377.83 L379.87,377.41 L379.88,377.00 L379.89,376.58 L379.89,376.17 L379.90,375.75 L379.90,375.34 L379.90,374.92 L379.90,374.51 L379.90,374.09 L379.90,373.68 L379.90,373.26 L379.90,372.85 L379.90,372.43 L379.90,372.02 L379.90,371.60 L379.90,371.19 L379.90,370.77 L379.90,370.36 L379.90,369.94 L379.90,369.53 L379.90,369.11 L379.90,368.70 L379.90,368.28 L379.90,367.87 L379.90,367.45 L379.90,367.04 L379.90,366.62 L379.90,366.21 L379.90,365.79 L379.90,365.38 L379.89,364.96 L379.89,364.55 L379.88,364.13 L379.87,363.72 L379.86,363.30 L379.85,362.89 L379.84,362.48 L379.83,362.06 L379.82,361.65 L379.81,361.23 L379.80,360.82 L379.79,360.40 L379.78,359.99 L379.77,359.57 L379.76,359.16 L379.76,358.74 L379.75,358.33 L379.75,357.91 L379.75,357.50 L379.75,357.08 L379.76,356.67 L379.76,356.25 L379.77,355.84 L379.78,355.42 L379.79,355.01 L379.80,354.59 L379.81,354.18 L379.83,353.76 L379.84,353.35 L379.86,352.93 L379.87,352.52 L379.89,352.10 L379.91,351.69 L379.92,351.27 L379.94,350.86 L379.95,350.44 L379.96,350.03 L379.98,349.61 L379.99,349.20 L380.01,348.78 L380.03,348.37 L380.04,347.95 L380.06,347.54 L380.08,347.12 L380.10,346.71 L380.11,346.29 L380.13,345.88 L380.15,345.46 L380.17,345.05 L380.18,344.63 L380.20,344.22 L380.20,344.22 L380.22,344.63 L380.23,345.05 L380.25,345.46 L380.27,345.88 L380.29,346.29 L380.30,346.71 L380.32,347.12 L380.34,347.54 L380.36,347.95 L380.37,348.37 L380.39,348.78 L380.41,349.20 L380.42,349.61 L380.44,350.03 L380.45,350.44 L380.46,350.86 L380.48,351.27 L380.49,351.69 L380.51,352.10 L380.53,352.52 L380.54,352.93 L380.56,353.35 L380.57,353.76 L380.59,354.18 L380.60,354.59 L380.61,355.01 L380.62,355.42 L380.63,355.84 L380.64,356.25 L380.64,356.67 L380.65,357.08 L380.65,357.50 L380.65,357.91 L380.65,358.33 L380.64,358.74 L380.64,359.16 L380.63,359.57 L380.62,359.99 L380.61,360.40 L380.60,360.82 L380.59,361.23 L380.58,361.65 L380.57,362.06 L380.56,362.48 L380.55,362.89 L380.54,363.30 L380.53,363.72 L380.52,364.13 L380.51,364.55 L380.51,364.96 L380.50,365.38 L380.50,365.79 L380.50,366.21 L380.50,366.62 L380.50,367.04 L380.50,367.45 L380.50,367.87 L380.50,368.28 L380.50,368.70 L380.50,369.11 L380.50,369.53 L380.50,369.94 L380.50,370.36 L380.50,370.77 L380.50,371.19 L380.50,371.60 L380.50,372.02 L380.50,372.43 L380.50,372.85 L380.50,373.26 L380.50,373.68 L380.50,374.09 L380.50,374.51 L380.50,374.92 L380.50,375.34 L380.50,375.75 L380.51,376.17 L380.51,376.58 L380.52,377.00 L380.53,377.41 L380.54,377.83 L380.55,378.24 L380.56,378.66 L380.57,379.07 L380.58,379.49 L380.60,379.90 L380.61,380.32 L380.62,380.73 L380.63,381.14 L380.64,381.56 L380.65,381.97 L380.66,382.39 L380.67,382.80 L380.68,383.22 L380.69,383.63 L380.69,384.05 L380.70,384.46 L380.70,384.88 L380.70,385.29 L380.70,385.71 L380.70,386.12 L380.69,386.54 L380.69,386.95 L380.68,387.37 L380.67,387.78 L380.66,388.20 L380.66,388.61 L380.65,389.03 L380.64,389.44 L380.63,389.86 L380.62,390.27 L380.62,390.69 L380.61,391.10 L380.61,391.52 L380.60,391.93 L380.60,392.35 L380.60,392.76 L380.60,393.18 L380.60,393.59 L380.61,394.01 L380.62,394.42 L380.63,394.84 L380.64,395.25 L380.65,395.67 L380.66,396.08 L380.68,396.50 L380.69,396.91 L380.71,397.33 L380.72,397.74 L380.74,398.16 L380.75,398.57 L380.77,398.99 L380.78,399.40 L380.80,399.81 L380.81,400.23 L380.83,400.64 L380.85,401.06 L380.87,401.47 L380.90,401.89 L380.92,402.30 L380.95,402.72 L380.97,403.13 L381.00,403.55 L381.02,403.96 L381.05,404.38 L381.08,404.79 L381.10,405.21 L381.13,405.62 L381.15,406.04 L381.18,406.45 L381.20,406.87 L381.22,407.28 L381.24,407.70 L381.26,408.11 L381.27,408.53 L381.28,408.94 L381.29,409.36 L381.30,409.77 L381.30,410.19 L381.30,410.60 L381.30,411.02 L381.29,411.43 L381.29,411.85 L381.28,412.26 L381.27,412.68 L381.26,413.09 L381.26,413.51 L381.24,413.92 L381.23,414.34 L381.22,414.75 L381.21,415.17 L381.20,415.58 L381.19,416.00 L381.18,416.41 L381.16,416.83 L381.15,417.24 L381.14,417.66 L381.13,418.07 L381.12,418.48 L381.12,418.90 L381.11,419.31 L381.11,419.73 L381.10,420.14 L381.10,420.56 L381.10,420.97 L381.11,421.39 L381.12,421.80 L381.14,422.22 L381.16,422.63 L381.19,423.05 L381.22,423.46 L381.25,423.88 L381.30,424.29 L381.34,424.71 L381.39,425.12 L381.44,425.54 L381.49,425.95 L381.55,426.37 L381.61,426.78 L381.67,427.20 L381.74,427.61 L381.80,428.03 L381.87,428.44 L381.94,428.86 L382.01,429.27 L382.08,429.69 L382.15,430.10 L382.22,430.52 L382.29,430.93 L382.36,431.35 L382.44,431.76 L382.53,432.18 L382.63,432.59 L382.74,433.01 L382.85,433.42 L382.96,433.84 L383.09,434.25 L383.21,434.67 L383.34,435.08 L383.48,435.50 L383.61,435.91 L383.75,436.32 L383.90,436.74 L384.04,437.15 L384.18,437.57 L384.33,437.98 L384.47,438.40 L384.61,438.81 L384.76,439.23 L384.90,439.64 L385.03,440.06 L385.17,440.47 L385.30,440.89 L385.42,441.30 L385.54,441.72 L385.67,442.13 L385.78,442.55 L385.90,442.96 L386.02,443.38 L386.13,443.79 L386.24,444.21 L386.36,444.62 L386.47,445.04 L386.58,445.45 L386.70,445.87 L386.81,446.28 L386.93,446.70 L387.04,447.11 L387.16,447.53 L387.28,447.94 L387.40,448.36 L387.53,448.77 L387.66,449.19 L387.79,449.60 L387.92,450.02 L388.06,450.43 L388.20,450.85 L388.35,451.26 L388.50,451.68 L388.65,452.09 L388.80,452.51 L388.96,452.92 L389.12,453.34 L389.27,453.75 L389.44,454.17 L389.60,454.58 L389.77,454.99 L389.94,455.41 L390.11,455.82 L390.29,456.24 L390.48,456.65 L390.67,457.07 L390.87,457.48 L391.07,457.90 L391.28,458.31 L391.49,458.73 L391.72,459.14 L391.95,459.56 L392.19,459.97 L392.44,460.39 L392.70,460.80 L392.97,461.22 L393.24,461.63 L393.53,462.05 L393.84,462.46 L394.18,462.88 L394.56,463.29 L394.96,463.71 L395.40,464.12 L395.86,464.54 L396.35,464.95 L396.85,465.37 L397.38,465.78 L397.92,466.20 L398.47,466.61 L399.03,467.03 L399.60,467.44 L400.18,467.86 L400.76,468.27 L401.34,468.69 L401.96,469.10 L402.61,469.52 L403.28,469.93 L403.97,470.35 L404.68,470.76 L405.41,471.18 L406.15,471.59 L406.90,472.01 L407.65,472.42 L408.41,472.84 L409.16,473.25 L409.92,473.66 L410.66,474.08 L411.40,474.49 L412.17,474.91 L412.98,475.32 L413.81,475.74 L414.66,476.15 L415.51,476.57 L416.35,476.98 L417.16,477.40 L417.94,477.81 L418.67,478.23 L419.35,478.64 L419.95,479.06 L420.47,479.47 L420.94,479.89 L421.42,480.30 L421.90,480.72 L422.35,481.13 L422.78,481.55 L423.16,481.96 L423.49,482.38 L423.74,482.79 L423.92,483.21 L424.00,483.62 L423.97,484.04 L423.86,484.45 L423.66,484.87 L423.38,485.28 L423.04,485.70 L422.64,486.11 L422.19,486.53 L421.70,486.94 L421.18,487.36 L420.64,487.77 L420.09,488.19 L419.53,488.60 L418.96,489.02 L418.29,489.43 L417.50,489.85 L416.62,490.26 L415.67,490.68 L414.65,491.09 L413.58,491.50 L412.49,491.92 L411.39,492.33 L410.29,492.75 L409.22,493.16 L408.20,493.58 L407.23,493.99 L406.30,494.41 L405.38,494.82 L404.47,495.24 L403.56,495.65 L402.65,496.07 L401.75,496.48 L400.86,496.90 L399.97,497.31 L399.08,497.73 L398.19,498.14 L397.31,498.56 L396.43,498.97 L395.54,499.39 L394.66,499.80 L393.77,500.22 L392.88,500.63 L392.00,501.05 L391.13,501.46 L390.26,501.88 L389.41,502.29 L388.58,502.71 L387.76,503.12 L386.95,503.54 L386.09,503.95 L385.22,504.37 L384.37,504.78 L383.58,505.20 L382.90,505.61 L382.37,506.03 L382.00,506.44 L381.70,506.86 L381.44,507.27 L381.21,507.69 L381.00,508.10 L380.81,508.52 L380.62,508.93 L380.42,509.35 L380.20,509.76Z" fill="#5875A4" stroke="#3a3a3a" stroke-width="1.0" stroke-linejoin="round"/>
<line x1="380.2" y1="448.80" x2="380.2" y2="496.86" stroke="#3a3a3a" stroke-width="0.9"/>
<line x1="380.2" y1="470.60" x2="380.2" y2="486.62" stroke="#3a3a3a" stroke-width="2.6"/>
<circle cx="380.2" cy="481.95" r="0.9" fill="#fff"/>
<path d="M488.20,515.10 L488.13,514.56 L488.07,514.02 L488.00,513.48 L487.94,512.94 L487.88,512.40 L487.82,511.86 L487.76,511.32 L487.70,510.78 L487.63,510.24 L487.56,509.70 L487.48,509.16 L487.39,508.62 L487.30,508.08 L487.20,507.54 L487.09,507.00 L486.95,506.46 L486.80,505.92 L486.64,505.38 L486.46,504.84 L486.27,504.30 L486.06,503.76 L485.85,503.22 L485.62,502.68 L485.39,502.14 L485.15,501.61 L484.90,501.07 L484.65,500.53 L484.39,499.99 L484.11,499.45 L483.81,498.91 L483.50,498.37 L483.17,497.83 L482.82,497.29 L482.46,496.75 L482.09,496.21 L481.71,495.67 L481.32,495.13 L480.92,494.59 L480.52,494.05 L480.11,493.51 L479.70,492.97 L479.29,492.43 L478.88,491.89 L478.48,491.35 L478.07,490.81 L477.66,490.27 L477.24,489.73 L476.81,489.19 L476.36,488.65 L475.91,488.11 L475.46,487.57 L474.99,487.03 L474.53,486.49 L474.06,485.95 L473.60,485.41 L473.13,484.87 L472.67,484.33 L472.22,483.79 L471.77,483.25 L471.32,482.71 L470.89,482.17 L470.47,481.63 L470.06,481.09 L469.64,480.55 L469.22,480.01 L468.79,479.47 L468.35,478.93 L467.92,478.39 L467.49,477.85 L467.06,477.31 L466.64,476.77 L466.23,476.23 L465.83,475.69 L465.44,475.15 L465.08,474.62 L464.73,474.08 L464.40,473.54 L464.10,473.00 L463.82,472.46 L463.57,471.92 L463.36,471.38 L463.15,470.84 L462.94,470.30 L462.73,469.76 L462.53,469.22 L462.35,468.68 L462.18,468.14 L462.04,467.60 L461.93,467.06 L461.85,466.52 L461.81,465.98 L461.81,465.44 L461.87,464.90 L461.98,464.36 L462.14,463.82 L462.33,463.28 L462.55,462.74 L462.80,462.20 L463.06,461.66 L463.32,461.12 L463.59,460.58 L463.85,460.04 L464.09,459.50 L464.32,458.96 L464.57,458.42 L464.82,457.88 L465.08,457.34 L465.34,456.80 L465.62,456.26 L465.89,455.72 L466.18,455.18 L466.46,454.64 L466.75,454.10 L467.04,453.56 L467.34,453.02 L467.63,452.48 L467.93,451.94 L468.24,451.40 L468.55,450.86 L468.88,450.32 L469.21,449.78 L469.55,449.24 L469.89,448.70 L470.24,448.16 L470.59,447.63 L470.94,447.09 L471.29,446.55 L471.64,446.01 L471.98,445.47 L472.32,444.93 L472.66,444.39 L472.99,443.85 L473.31,443.31 L473.63,442.77 L473.93,442.23 L474.23,441.69 L474.51,441.15 L474.77,440.61 L475.03,440.07 L475.27,439.53 L475.52,438.99 L475.76,438.45 L476.00,437.91 L476.23,437.37 L476.46,436.83 L476.68,436.29 L476.90,435.75 L477.12,435.21 L477.33,434.67 L477.53,434.13 L477.74,433.59 L477.94,433.05 L478.13,432.51 L478.32,431.97 L478.51,431.43 L478.69,430.89 L478.87,430.35 L479.04,429.81 L479.21,429.27 L479.38,428.73 L479.54,428.19 L479.70,427.65 L479.85,427.11 L479.99,426.57 L480.13,426.03 L480.27,425.49 L480.41,424.95 L480.54,424.41 L480.67,423.87 L480.80,423.33 L480.92,422.79 L481.04,422.25 L481.17,421.71 L481.29,421.17 L481.41,420.64 L481.53,420.10 L481.65,419.56 L481.77,419.02 L481.89,418.48 L482.02,417.94 L482.14,417.40 L482.27,416.86 L482.40,416.32 L482.53,415.78 L482.66,415.24 L482.79,414.70 L482.92,414.16 L483.05,413.62 L483.18,413.08 L483.31,412.54 L483.44,412.00 L483.57,411.46 L483.70,410.92 L483.83,410.38 L483.96,409.84 L484.09,409.30 L484.23,408.76 L484.36,408.22 L484.50,407.68 L484.64,407.14 L484.78,406.60 L484.93,406.06 L485.08,405.52 L485.25,404.98 L485.42,404.44 L485.59,403.90 L485.77,403.36 L485.94,402.82 L486.11,402.28 L486.27,401.74 L486.41,401.20 L486.55,400.66 L486.67,400.12 L486.77,399.58 L486.85,399.04 L486.94,398.50 L487.01,397.96 L487.09,397.42 L487.16,396.88 L487.23,396.34 L487.29,395.80 L487.35,395.26 L487.40,394.72 L487.45,394.18 L487.50,393.65 L487.54,393.11 L487.57,392.57 L487.59,392.03 L487.61,391.49 L487.63,390.95 L487.65,390.41 L487.67,389.87 L487.69,389.33 L487.70,388.79 L487.72,388.25 L487.73,387.71 L487.75,387.17 L487.76,386.63 L487.77,386.09 L487.79,385.55 L487.80,385.01 L487.81,384.47 L487.82,383.93 L487.82,383.39 L487.83,382.85 L487.84,382.31 L487.84,381.77 L487.85,381.23 L487.85,380.69 L487.85,380.15 L487.85,379.61 L487.85,379.07 L487.85,378.53 L487.85,377.99 L487.85,377.45 L487.85,376.91 L487.85,376.37 L487.85,375.83 L487.85,375.29 L487.85,374.75 L487.85,374.21 L487.85,373.67 L487.85,373.13 L487.85,372.59 L487.85,372.05 L487.85,371.51 L487.85,370.97 L487.85,370.43 L487.85,369.89 L487.85,369.35 L487.85,368.81 L487.85,368.27 L487.85,367.73 L487.84,367.19 L487.84,366.66 L487.83,366.12 L487.82,365.58 L487.81,365.04 L487.80,364.50 L487.79,363.96 L487.78,363.42 L487.77,362.88 L487.76,362.34 L487.76,361.80 L487.75,361.26 L487.75,360.72 L487.75,360.18 L487.75,359.64 L487.76,359.10 L487.76,358.56 L487.77,358.02 L487.78,357.48 L487.79,356.94 L487.80,356.40 L487.81,355.86 L487.82,355.32 L487.83,354.78 L487.84,354.24 L487.85,353.70 L487.87,353.16 L487.87,352.62 L487.88,352.08 L487.89,351.54 L487.90,351.00 L487.90,350.46 L487.90,349.92 L487.91,349.38 L487.91,348.84 L487.91,348.30 L487.92,347.76 L487.92,347.22 L487.92,346.68 L487.92,346.14 L487.93,345.60 L487.93,345.06 L487.93,344.52 L487.93,343.98 L487.94,343.44 L487.94,342.90 L487.94,342.36 L487.94,341.82 L487.94,341.28 L487.95,340.74 L487.95,340.20 L487.95,339.67 L487.95,339.13 L487.95,338.59 L487.95,338.05 L487.95,337.51 L487.95,336.97 L487.95,336.43 L487.95,335.89 L487.95,335.35 L487.95,334.81 L487.95,334.27 L487.94,333.73 L487.94,333.19 L487.94,332.65 L487.94,332.11 L487.94,331.57 L487.93,331.03 L487.93,330.49 L487.93,329.95 L487.92,329.41 L487.92,328.87 L487.92,328.33 L487.91,327.79 L487.91,327.25 L487.91,326.71 L487.90,326.17 L487.90,325.63 L487.89,325.09 L487.88,324.55 L487.87,324.01 L487.86,323.47 L487.85,322.93 L487.84,322.39 L487.83,321.85 L487.82,321.31 L487.81,320.77 L487.80,320.23 L487.80,319.69 L487.80,319.15 L487.80,318.61 L487.80,318.07 L487.81,317.53 L487.82,316.99 L487.82,316.45 L487.83,315.91 L487.84,315.37 L487.85,314.83 L487.86,314.29 L487.88,313.75 L487.89,313.21 L487.90,312.68 L487.91,312.14 L487.93,311.60 L487.94,311.06 L487.95,310.52 L487.96,309.98 L487.97,309.44 L487.98,308.90 L487.99,308.36 L488.00,307.82 L488.02,307.28 L488.03,306.74 L488.04,306.20 L488.06,305.66 L488.07,305.12 L488.08,304.58 L488.09,304.04 L488.11,303.50 L488.12,302.96 L488.13,302.42 L488.15,301.88 L488.16,301.34 L488.17,300.80 L488.19,300.26 L488.20,299.72 L488.20,299.72 L488.21,300.26 L488.23,300.80 L488.24,301.34 L488.25,301.88 L488.27,302.42 L488.28,302.96 L488.29,303.50 L488.31,304.04 L488.32,304.58 L488.33,305.12 L488.34,305.66 L488.36,306.20 L488.37,306.74 L488.38,307.28 L488.40,307.82 L488.41,308.36 L488.42,308.90 L488.43,309.44 L488.44,309.98 L488.45,310.52 L488.46,311.06 L488.47,311.60 L488.49,312.14 L488.50,312.68 L488.51,313.21 L488.52,313.75 L488.54,314.29 L488.55,314.83 L488.56,315.37 L488.57,315.91 L488.58,316.45 L488.58,316.99 L488.59,317.53 L488.60,318.07 L488.60,318.61 L488.60,319.15 L488.60,319.69 L488.60,320.23 L488.59,320.77 L488.58,321.31 L488.57,321.85 L488.56,322.39 L488.55,322.93 L488.54,323.47 L488.53,324.01 L488.52,324.55 L488.51,325.09 L488.50,325.63 L488.50,326.17 L488.49,326.71 L488.49,327.25 L488.49,327.79 L488.48,328.33 L488.48,328.87 L488.48,329.41 L488.47,329.95 L488.47,330.49 L488.47,331.03 L488.46,331.57 L488.46,332.11 L488.46,332.65 L488.46,333.19 L488.46,333.73 L488.45,334.27 L488.45,334.81 L488.45,335.35 L488.45,335.89 L488.45,336.43 L488.45,336.97 L488.45,337.51 L488.45,338.05 L488.45,338.59 L488.45,339.13 L488.45,339.67 L488.45,340.20 L488.45,340.74 L488.46,341.28 L488.46,341.82 L488.46,342.36 L488.46,342.90 L488.46,343.44 L488.47,343.98 L488.47,344.52 L488.47,345.06 L488.47,345.60 L488.48,346.14 L488.48,346.68 L488.48,347.22 L488.48,347.76 L488.49,348.30 L488.49,348.84 L488.49,349.38 L488.50,349.92 L488.50,350.46 L488.50,351.00 L488.51,351.54 L488.52,352.08 L488.53,352.62 L488.53,353.16 L488.55,353.70 L488.56,354.24 L488.57,354.78 L488.58,355.32 L488.59,355.86 L488.60,356.40 L488.61,356.94 L488.62,357.48 L488.63,358.02 L488.64,358.56 L488.64,359.10 L488.65,359.64 L488.65,360.18 L488.65,360.72 L488.65,361.26 L488.64,361.80 L488.64,362.34 L488.63,362.88 L488.62,363.42 L488.61,363.96 L488.60,364.50 L488.59,365.04 L488.58,365.58 L488.57,366.12 L488.56,366.66 L488.56,367.19 L488.55,367.73 L488.55,368.27 L488.55,368.81 L488.55,369.35 L488.55,369.89 L488.55,370.43 L488.55,370.97 L488.55,371.51 L488.55,372.05 L488.55,372.59 L488.55,373.13 L488.55,373.67 L488.55,374.21 L488.55,374.75 L488.55,375.29 L488.55,375.83 L488.55,376.37 L488.55,376.91 L488.55,377.45 L488.55,377.99 L488.55,378.53 L488.55,379.07 L488.55,379.61 L488.55,380.15 L488.55,380.69 L488.55,381.23 L488.56,381.77 L488.56,382.31 L488.57,382.85 L488.58,383.39 L488.58,383.93 L488.59,384.47 L488.60,385.01 L488.61,385.55 L488.63,386.09 L488.64,386.63 L488.65,387.17 L488.67,387.71 L488.68,388.25 L488.70,388.79 L488.71,389.33 L488.73,389.87 L488.75,390.41 L488.77,390.95 L488.79,391.49 L488.81,392.03 L488.83,392.57 L488.86,393.11 L488.90,393.65 L488.95,394.18 L489.00,394.72 L489.05,395.26 L489.11,395.80 L489.17,396.34 L489.24,396.88 L489.31,397.42 L489.39,397.96 L489.46,398.50 L489.55,399.04 L489.63,399.58 L489.73,400.12 L489.85,400.66 L489.99,401.20 L490.13,401.74 L490.29,402.28 L490.46,402.82 L490.63,403.36 L490.81,403.90 L490.98,404.44 L491.15,404.98 L491.32,405.52 L491.47,406.06 L491.62,406.60 L491.76,407.14 L491.90,407.68 L492.04,408.22 L492.17,408.76 L492.31,409.30 L492.44,409.84 L492.57,410.38 L492.70,410.92 L492.83,411.46 L492.96,412.00 L493.09,412.54 L493.22,413.08 L493.35,413.62 L493.48,414.16 L493.61,414.70 L493.74,415.24 L493.87,415.78 L494.00,416.32 L494.13,416.86 L494.26,417.40 L494.38,417.94 L494.51,418.48 L494.63,419.02 L494.75,419.56 L494.87,420.10 L494.99,420.64 L495.11,421.17 L495.23,421.71 L495.36,422.25 L495.48,422.79 L495.60,423.33 L495.73,423.87 L495.86,424.41 L495.99,424.95 L496.13,425.49 L496.27,426.03 L496.41,426.57 L496.55,427.11 L496.70,427.65 L496.86,428.19 L497.02,428.73 L497.19,429.27 L497.36,429.81 L497.53,430.35 L497.71,430.89 L497.89,431.43 L498.08,431.97 L498.27,432.51 L498.46,433.05 L498.66,433.59 L498.87,434.13 L499.07,434.67 L499.28,435.21 L499.50,435.75 L499.72,436.29 L499.94,436.83 L500.17,437.37 L500.40,437.91 L500.64,438.45 L500.88,438.99 L501.13,439.53 L501.37,440.07 L501.63,440.61 L501.89,441.15 L502.17,441.69 L502.47,442.23 L502.77,442.77 L503.09,443.31 L503.41,443.85 L503.74,444.39 L504.08,444.93 L504.42,445.47 L504.76,446.01 L505.11,446.55 L505.46,447.09 L505.81,447.63 L506.16,448.16 L506.51,448.70 L506.85,449.24 L507.19,449.78 L507.52,450.32 L507.85,450.86 L508.16,451.40 L508.47,451.94 L508.77,452.48 L509.06,453.02 L509.36,453.56 L509.65,454.10 L509.94,454.64 L510.22,455.18 L510.51,455.72 L510.78,456.26 L511.06,456.80 L511.32,457.34 L511.58,457.88 L511.83,458.42 L512.08,458.96 L512.31,459.50 L512.55,460.04 L512.81,460.58 L513.08,461.12 L513.34,461.66 L513.60,462.20 L513.85,462.74 L514.07,463.28 L514.26,463.82 L514.42,464.36 L514.53,464.90 L514.59,465.44 L514.59,465.98 L514.55,466.52 L514.47,467.06 L514.36,467.60 L514.22,468.14 L514.05,468.68 L513.87,469.22 L513.67,469.76 L513.46,470.30 L513.25,470.84 L513.04,471.38 L512.83,471.92 L512.58,472.46 L512.30,473.00 L512.00,473.54 L511.67,474.08 L511.32,474.62 L510.96,475.15 L510.57,475.69 L510.17,476.23 L509.76,476.77 L509.34,477.31 L508.91,477.85 L508.48,478.39 L508.05,478.93 L507.61,479.47 L507.18,480.01 L506.76,480.55 L506.34,481.09 L505.93,481.63 L505.51,482.17 L505.08,482.71 L504.63,483.25 L504.18,483.79 L503.73,484.33 L503.27,484.87 L502.80,485.41 L502.34,485.95 L501.87,486.49 L501.41,487.03 L500.94,487.57 L500.49,488.11 L500.04,488.65 L499.59,489.19 L499.16,489.73 L498.74,490.27 L498.33,490.81 L497.92,491.35 L497.52,491.89 L497.11,492.43 L496.70,492.97 L496.29,493.51 L495.88,494.05 L495.48,494.59 L495.08,495.13 L494.69,495.67 L494.31,496.21 L493.94,496.75 L493.58,497.29 L493.23,497.83 L492.90,498.37 L492.59,498.91 L492.29,499.45 L492.01,499.99 L491.75,500.53 L491.50,501.07 L491.25,501.61 L491.01,502.14 L490.78,502.68 L490.55,503.22 L490.34,503.76 L490.13,504.30 L489.94,504.84 L489.76,505.38 L489.60,505.92 L489.45,506.46 L489.31,507.00 L489.20,507.54 L489.10,508.08 L489.01,508.62 L488.92,509.16 L488.84,509.70 L488.77,510.24 L488.70,510.78 L488.64,511.32 L488.58,511.86 L488.52,512.40 L488.46,512.94 L488.40,513.48 L488.33,514.02 L488.27,514.56 L488.20,515.10Z" fill="#5F9E6E" stroke="#3a3a3a" stroke-width="1.0" stroke-linejoin="round"/>
<line x1="488.2" y1="410.53" x2="488.2" y2="495.74" stroke="#3a3a3a" stroke-width="0.9"/>
<line x1="488.2" y1="449.24" x2="488.2" y2="475.50" stroke="#3a3a3a" stroke-width="2.6"/>
<circle cx="488.2" cy="465.71" r="0.9" fill="#fff"/>
<text x="380.20" y="536.80" font-size="7.0" text-anchor="middle" fill="#262626" font-family="Liberation Sans, Arial, sans-serif" >orb.txt</text>
<text x="488.20" y="536.80" font-size="7.0" text-anchor="middle" fill="#262626" font-family="Liberation Sans, Arial, sans-serif" >vd.txt</text>
<text x="434.20" y="546.20" font-size="7.0" text-anchor="middle" fill="#262626" font-family="Liberation Sans, Arial, sans-serif" >estimate</text>
<text transform="translate(313.1,407) rotate(-90)" font-size="7.0" text-anchor="middle" fill="#262626" font-family="Liberation Sans, Arial, sans-serif">RPE (m)</text>
<text x="141.8" y="276.8" font-size="14.4" text-anchor="middle" fill="#111" stroke="#111" stroke-width="0.0" font-family="Liberation Serif, Times New Roman, serif">(<tspan font-weight="bold">a</tspan>)</text>
<text x="425.3" y="277.0" font-size="14.4" text-anchor="middle" fill="#111" stroke="#111" stroke-width="0.0" font-family="Liberation Serif, Times New Roman, serif">(<tspan font-weight="bold">b</tspan>)</text>
<text x="141.9" y="571.2" font-size="14.4" text-anchor="middle" fill="#111" stroke="#111" stroke-width="0.0" font-family="Liberation Serif, Times New Roman, serif">(<tspan font-weight="bold">c</tspan>)</text>
<text x="425.5" y="571.6" font-size="16" text-anchor="middle" fill="#111" stroke="#111" stroke-width="0.3" font-family="Liberation Serif, Times New Roman, serif">(<tspan font-weight="normal">d</tspan>)</text>
</svg>
</body></html>
